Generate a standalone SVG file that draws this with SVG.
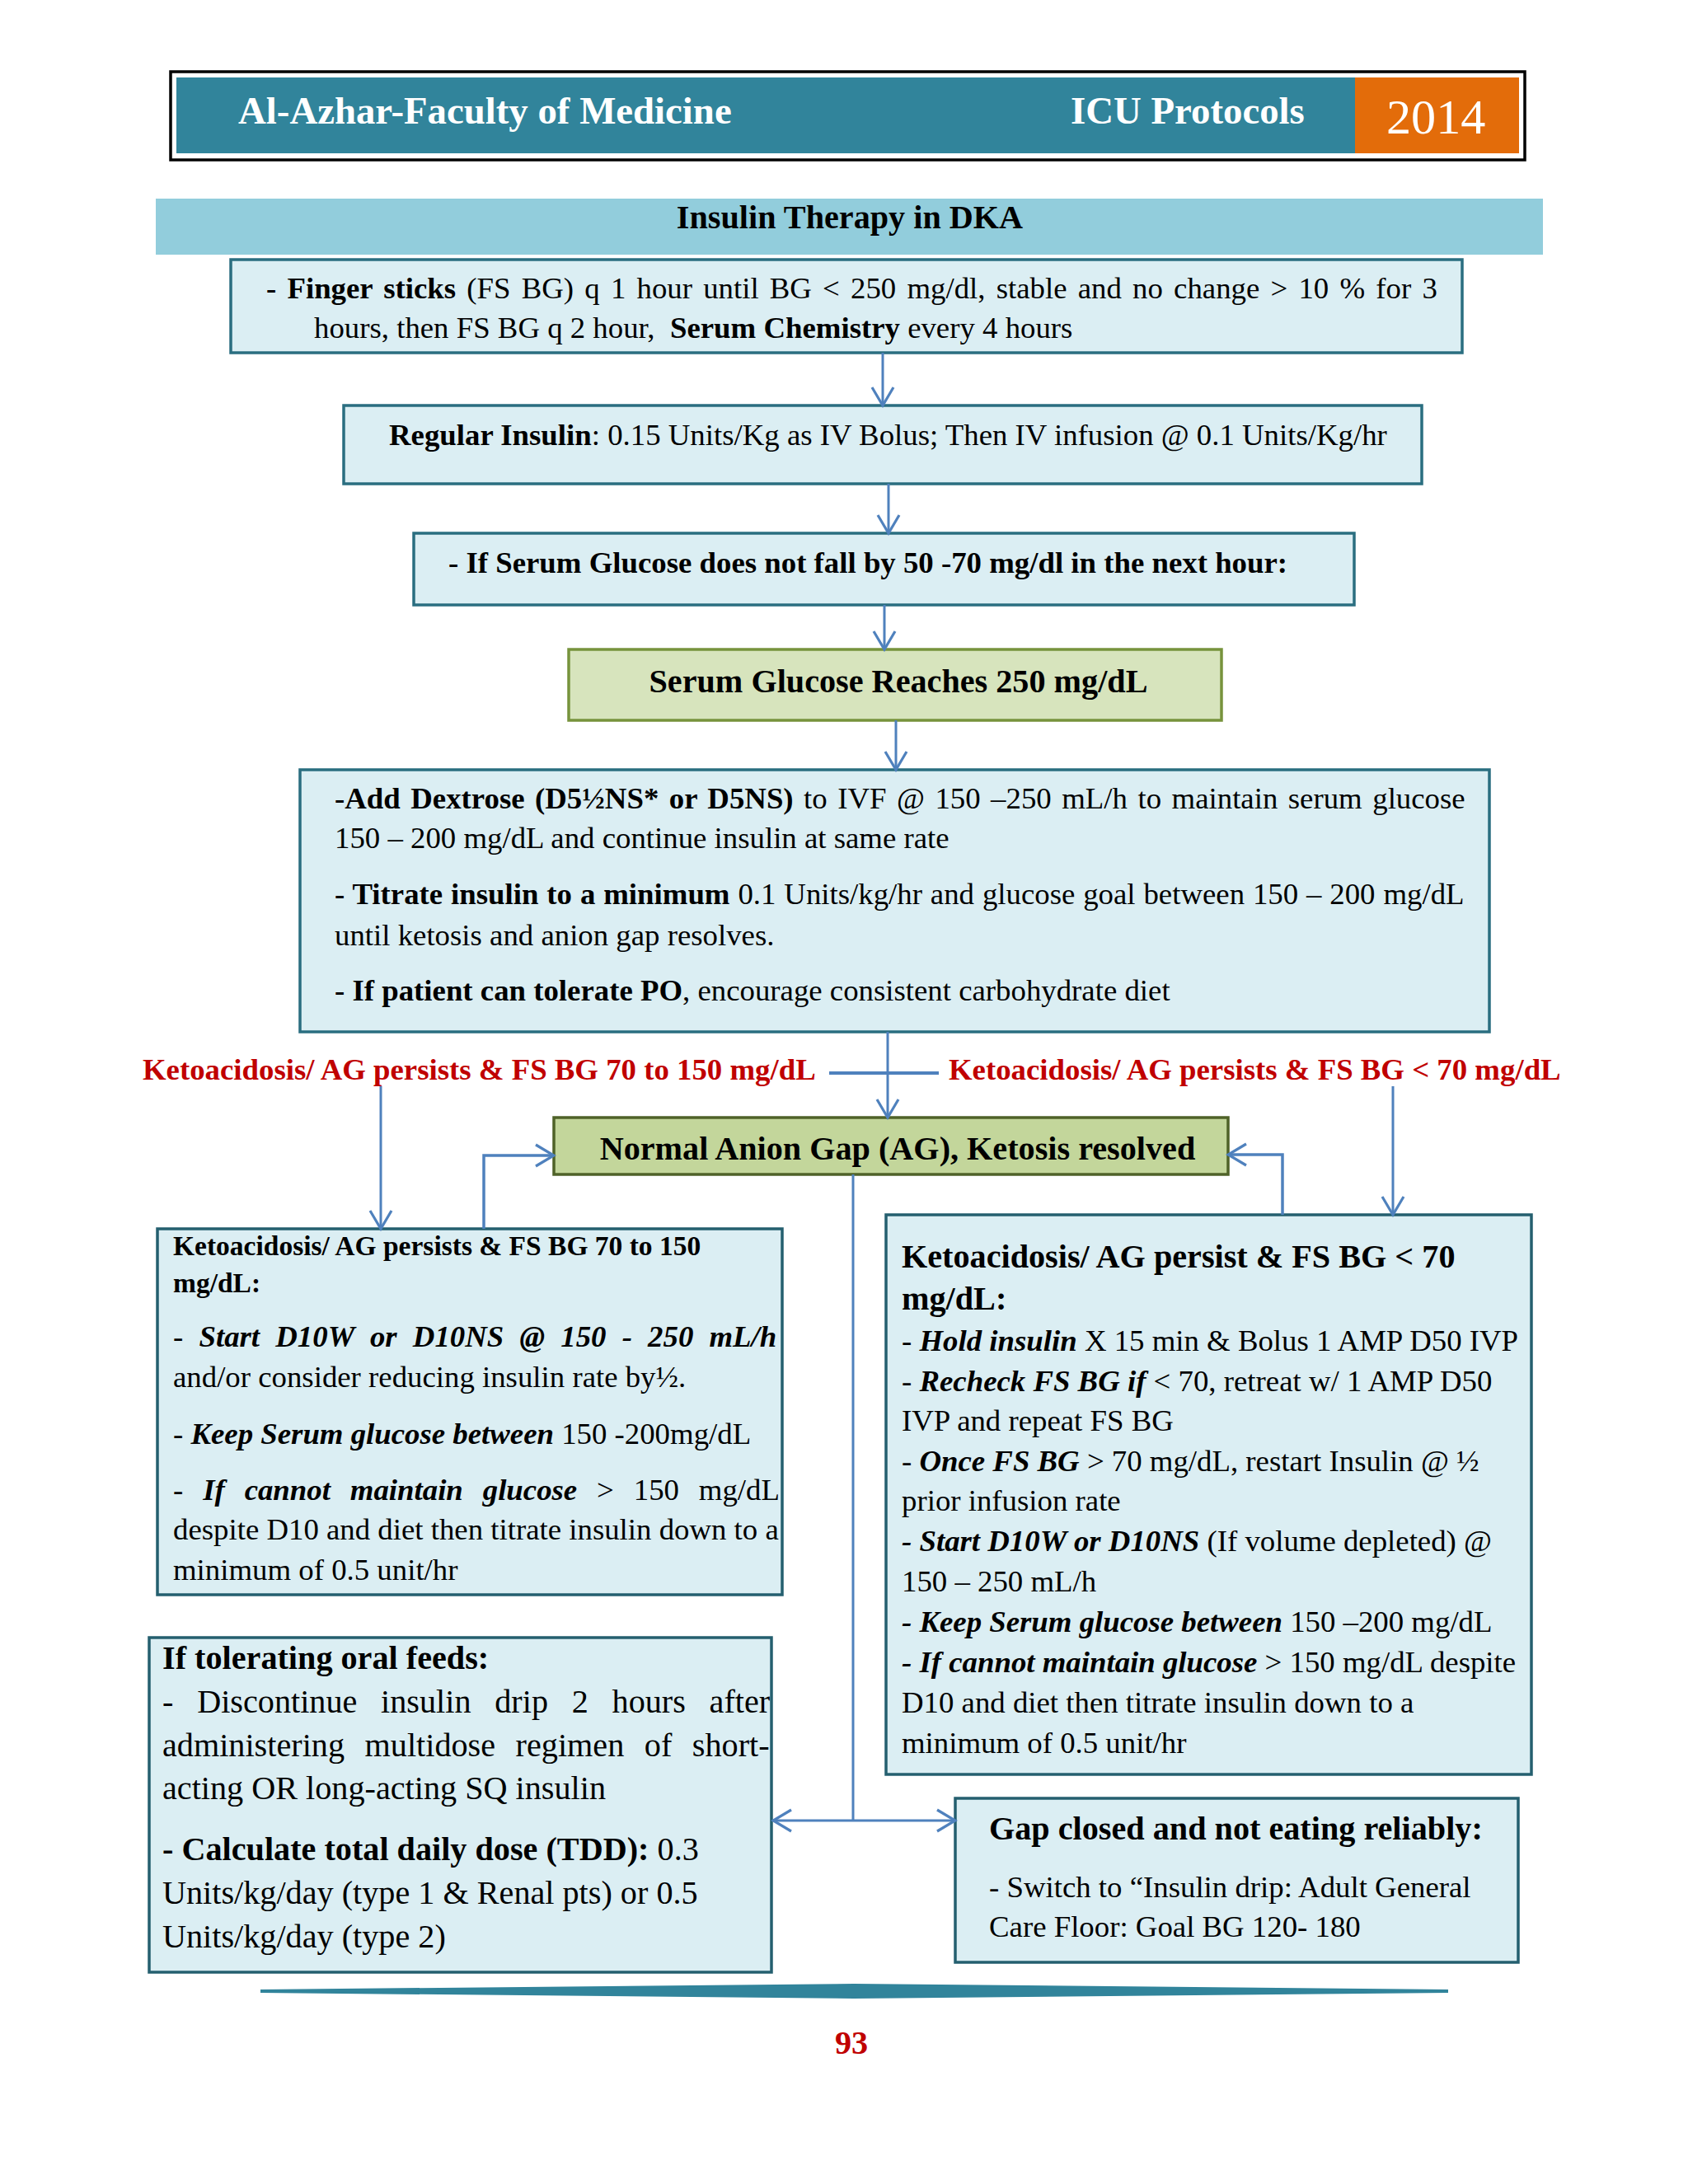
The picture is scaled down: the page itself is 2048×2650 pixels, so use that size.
<svg xmlns="http://www.w3.org/2000/svg" width="2048" height="2650" viewBox="0 0 2048 2650">
<defs>
<marker id="arr" viewBox="-2 -2 28 32" markerWidth="28" markerHeight="32" refX="23" refY="14" orient="auto" markerUnits="userSpaceOnUse">
<path d="M1,1 L23,14 L1,27" fill="none" stroke="#4F81BD" stroke-width="3.2" stroke-linejoin="miter"/>
</marker>
<style>
text{font-family:"Liberation Serif","Times New Roman",serif;fill:#000}
.b{font-weight:bold}
.i{font-style:italic}
.bi{font-weight:bold;font-style:italic}
.s11{font-size:36.8px}
.s12{font-size:40.2px}
.s10{font-size:33.5px}
.red{fill:#C00000;font-weight:bold;font-size:36.8px}
.box{fill:#DBEEF3;stroke:#2A6E80;stroke-width:3.5}
.boxd{fill:#DBEEF3;stroke:#245F6F;stroke-width:3.5}
.con{fill:none;stroke:#4F81BD;stroke-width:3}
.hd{fill:#fff;font-weight:bold;font-size:46.8px}
</style>
</defs>
<rect width="2048" height="2650" fill="#fff"/>
<g id="header">
<rect x="207" y="87" width="1643" height="107" fill="#fff" stroke="#000" stroke-width="3.5"/>
<rect x="214" y="94" width="1430" height="92" fill="#31849B"/>
<rect x="1644" y="94" width="199" height="92" fill="#E36C0A"/>
<text class="hd" x="289" y="150">Al-Azhar-Faculty of Medicine</text>
<text class="hd" x="1299" y="150">ICU Protocols</text>
<text x="1682" y="162" style="fill:#fff;font-size:60.2px">2014</text>
</g>
<g id="title">
<rect x="189" y="241" width="1683" height="68" fill="#92CDDC"/>
<text class="b s12" x="1031" y="277" text-anchor="middle">Insulin Therapy in DKA</text>
</g>
<g id="n1">
<rect class="box" x="280" y="315" width="1494" height="113"/>
<text class="s11" x="323" y="362" word-spacing="4"><tspan class="b">- Finger sticks</tspan> (FS BG) q 1 hour until BG &lt; 250 mg/dl, stable and no change &gt; 10 % for 3</text>
<text class="s11" x="381" y="410">hours, then FS BG q 2 hour,&#160; <tspan class="b">Serum Chemistry</tspan> every 4 hours</text>
</g>
<g id="n2">
<rect class="box" x="417" y="492" width="1308" height="95"/>
<text class="s11" x="472" y="540"><tspan class="b">Regular Insulin</tspan>: 0.15 Units/Kg as IV Bolus; Then IV infusion @ 0.1 Units/Kg/hr</text>
</g>
<g id="n3">
<rect class="box" x="502" y="647" width="1141" height="87"/>
<text class="b s11" x="544" y="695">- If Serum Glucose does not fall by 50 -70 mg/dl in the next hour:</text>
</g>
<g id="n4">
<rect x="690" y="788" width="792" height="86" fill="#D7E4BD" stroke="#77933C" stroke-width="3.5"/>
<text class="b s12" x="1090" y="840" text-anchor="middle">Serum Glucose Reaches 250 mg/dL</text>
</g>
<g id="n5">
<rect class="box" x="364" y="934" width="1443" height="318"/>
<text class="s11" x="406" y="981" word-spacing="3.3"><tspan class="b">-Add Dextrose (D5½NS* or D5NS)</tspan> to IVF @ 150 –250 mL/h to maintain serum glucose</text>
<text class="s11" x="406" y="1029">150 – 200 mg/dL and continue insulin at same rate</text>
<text class="s11" x="406" y="1097" word-spacing="0.7"><tspan class="b">- Titrate insulin to a minimum</tspan> 0.1 Units/kg/hr and glucose goal between 150 – 200 mg/dL</text>
<text class="s11" x="406" y="1147">until ketosis and anion gap resolves.</text>
<text class="s11" x="406" y="1214"><tspan class="b">- If patient can tolerate PO</tspan>, encourage consistent carbohydrate diet</text>
</g>
<g id="labels">
<text class="red" x="173" y="1310">Ketoacidosis/ AG persists &amp; FS BG 70 to 150 mg/dL</text>
<text class="red" x="1151" y="1310">Ketoacidosis/ AG persists &amp; FS BG &lt; 70 mg/dL</text>
</g>
<g id="n6">
<rect x="672" y="1356" width="818" height="69" fill="#C3D69B" stroke="#4F6228" stroke-width="3.5"/>
<text class="b s12" x="1089" y="1407" text-anchor="middle">Normal Anion Gap (AG), Ketosis resolved</text>
</g>
<g id="n7">
<rect class="boxd" x="191" y="1491" width="758" height="444"/>
<text class="b s10" x="210" y="1523">Ketoacidosis/ AG persists &amp; FS BG 70 to 150</text>
<text class="b s10" x="210" y="1568">mg/dL:</text>
<text class="s11" x="210" y="1634" word-spacing="10">- <tspan class="bi">Start D10W or D10NS @ 150 - 250 mL/h</tspan></text>
<text class="s11" x="210" y="1683">and/or consider reducing insulin rate by½.</text>
<text class="s11" x="210" y="1752">- <tspan class="bi">Keep Serum glucose between</tspan> 150 -200mg/dL</text>
<text class="s11" x="210" y="1820" word-spacing="14.7">- <tspan class="bi">If cannot maintain glucose</tspan> &gt; 150 mg/dL</text>
<text class="s11" x="210" y="1868">despite D10 and diet then titrate insulin down to a</text>
<text class="s11" x="210" y="1917">minimum of 0.5 unit/hr</text>
</g>
<g id="n8">
<rect class="boxd" x="1075" y="1474" width="783" height="679"/>
<text class="b s12" x="1094" y="1538">Ketoacidosis/ AG persist &amp; FS BG &lt; 70</text>
<text class="b s12" x="1094" y="1589">mg/dL:</text>
<text class="s11" x="1094" y="1639">- <tspan class="bi">Hold insulin</tspan> X 15 min &amp; Bolus 1 AMP D50 IVP</text>
<text class="s11" x="1094" y="1688">- <tspan class="bi">Recheck FS BG if</tspan> &lt; 70, retreat w/ 1 AMP D50</text>
<text class="s11" x="1094" y="1736">IVP and repeat FS BG</text>
<text class="s11" x="1094" y="1785">- <tspan class="bi">Once FS BG</tspan> &gt; 70 mg/dL, restart Insulin @ ½</text>
<text class="s11" x="1094" y="1833">prior infusion rate</text>
<text class="s11" x="1094" y="1882"><tspan class="bi">- Start D10W or D10NS</tspan> (If volume depleted) @</text>
<text class="s11" x="1094" y="1931">150 – 250 mL/h</text>
<text class="s11" x="1094" y="1980"><tspan class="bi">- Keep Serum glucose between</tspan> 150 –200 mg/dL</text>
<text class="s11" x="1094" y="2029"><tspan class="bi">- If cannot maintain glucose</tspan> &gt; 150 mg/dL despite</text>
<text class="s11" x="1094" y="2078">D10 and diet then titrate insulin down to a</text>
<text class="s11" x="1094" y="2127">minimum of 0.5 unit/hr</text>
</g>
<g id="n9">
<rect class="boxd" x="181" y="1987" width="755" height="406"/>
<text class="b s12" x="197" y="2025">If tolerating oral feeds:</text>
<text class="s12" x="197" y="2078" word-spacing="18.7">- Discontinue insulin drip 2 hours after</text>
<text class="s12" x="197" y="2131" word-spacing="14.5">administering multidose regimen of short-</text>
<text class="s12" x="197" y="2183">acting OR long-acting SQ insulin</text>
<text class="s12" x="197" y="2257"><tspan class="b">- Calculate total daily dose (TDD):</tspan> 0.3</text>
<text class="s12" x="197" y="2310">Units/kg/day (type 1 &amp; Renal pts) or 0.5</text>
<text class="s12" x="197" y="2363">Units/kg/day (type 2)</text>
</g>
<g id="n10">
<rect class="boxd" x="1159" y="2182" width="683" height="199"/>
<text class="b s12" x="1200" y="2232">Gap closed and not eating reliably:</text>
<text class="s11" x="1200" y="2302">- Switch to “Insulin drip: Adult General</text>
<text class="s11" x="1200" y="2350">Care Floor: Goal BG 120- 180</text>
</g>
<g id="connectors">
<path class="con" d="M1071,428 V492" marker-end="url(#arr)"/>
<path class="con" d="M1078,587 V647" marker-end="url(#arr)"/>
<path class="con" d="M1073,734 V788" marker-end="url(#arr)"/>
<path class="con" d="M1087,874 V934" marker-end="url(#arr)"/>
<path class="con" d="M1077,1252 V1356" marker-end="url(#arr)"/>
<path class="con" d="M1006,1302 H1139" style="stroke-width:4"/>
<path class="con" d="M462,1318 V1491" marker-end="url(#arr)"/>
<path class="con" d="M1690,1318 V1474" marker-end="url(#arr)"/>
<path class="con" d="M587,1491 V1402 H672" style="stroke-width:3.5" marker-end="url(#arr)"/>
<path class="con" d="M1556,1474 V1401 H1490" style="stroke-width:3.5" marker-end="url(#arr)"/>
<path class="con" d="M1035,1425 V2209"/>
<path class="con" d="M1035,2209 H938" marker-end="url(#arr)"/>
<path class="con" d="M1035,2209 H1159" marker-end="url(#arr)"/>
</g>
<g id="footer">
<path d="M316,2414 L1036,2407 L1757,2414 L1757,2418 L1036,2425 L316,2418 Z" fill="#31849B"/>
<text x="1033" y="2492" text-anchor="middle" style="fill:#C00000;font-weight:bold;font-size:40.2px">93</text>
</g>
</svg>
